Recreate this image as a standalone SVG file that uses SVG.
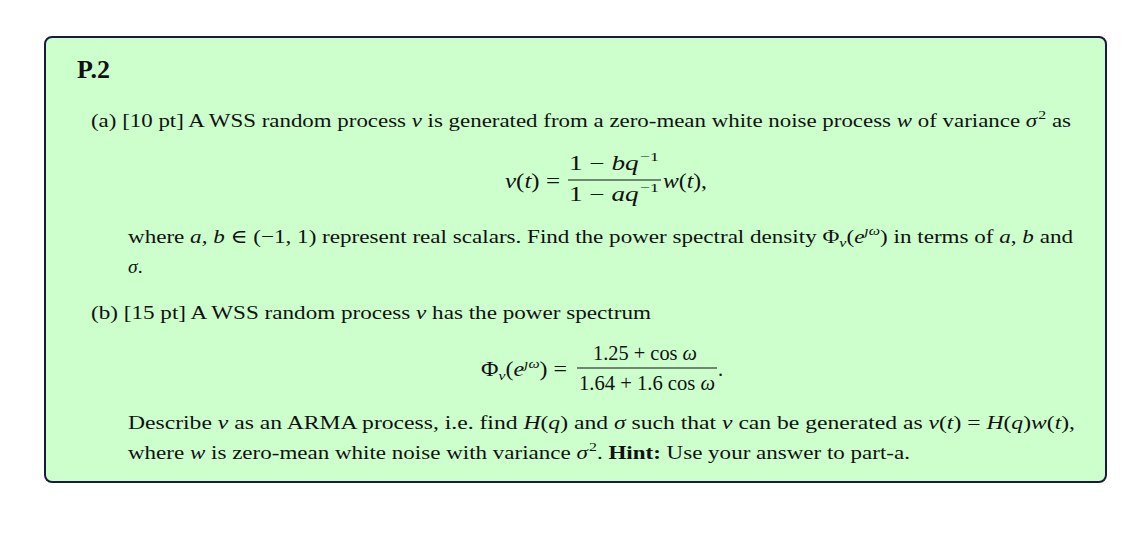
<svg xmlns="http://www.w3.org/2000/svg" width="1139" height="538" viewBox="0 0 1139 538">
<style>
text{font-family:"Liberation Serif","DejaVu Serif",serif;font-size:19.5px;fill:#111}
.m{font-size:20.5px}
.i{font-style:italic}
.s{font-size:13.5px}
</style>
<rect width="1139" height="538" fill="#fff"/>
<g id="box">
<rect x="45" y="37" width="1061" height="445" rx="7" fill="#ccffcc" stroke="#1a1a3a" stroke-width="2"/>
</g>
<g id="content">
<text x="77" y="78" style="font-weight:bold;font-size:26px">P.2</text>
<text x="91" y="127" textLength="980" lengthAdjust="spacingAndGlyphs">(a)  [10 pt] A WSS random process <tspan class="i">v</tspan> is generated from a zero-mean white noise process <tspan class="i">w</tspan> of variance <tspan class="i">σ</tspan><tspan class="s" dx="1" dy="-8">2</tspan><tspan dy="8"> as</tspan></text>
<text class="m" x="505" y="188" textLength="55" lengthAdjust="spacingAndGlyphs"><tspan class="i">v</tspan>(<tspan class="i">t</tspan>) =</text>
<text class="m" x="569" y="170" textLength="90" lengthAdjust="spacingAndGlyphs">1 − <tspan class="i">bq</tspan><tspan class="s" dx="1" dy="-9">−1</tspan></text>
<line x1="568" y1="180" x2="661" y2="180" stroke="#111" stroke-width="1.2"/>
<text class="m" x="569" y="201" textLength="90" lengthAdjust="spacingAndGlyphs">1 − <tspan class="i">aq</tspan><tspan class="s" dx="1" dy="-9">−1</tspan></text>
<text class="m" x="663" y="188" textLength="44" lengthAdjust="spacingAndGlyphs"><tspan class="i">w</tspan>(<tspan class="i">t</tspan>),</text>
<text x="128" y="243" textLength="945" lengthAdjust="spacingAndGlyphs">where <tspan class="i">a, b</tspan> ∈ (−1, 1) represent real scalars. Find the power spectral density Φ<tspan class="i s" dy="4">v</tspan><tspan dy="-4">(</tspan><tspan class="i">e</tspan><tspan class="i s" dy="-8">ȷω</tspan><tspan dy="8">) in terms of </tspan><tspan class="i">a</tspan>, <tspan class="i">b</tspan> and</text>
<text x="128" y="273"><tspan class="i">σ</tspan>.</text>
<text x="91" y="319" textLength="560" lengthAdjust="spacingAndGlyphs">(b)  [15 pt] A WSS random process <tspan class="i">v</tspan> has the power spectrum</text>
<text class="m" x="481" y="376" textLength="86" lengthAdjust="spacingAndGlyphs">Φ<tspan class="i s" dy="4">v</tspan><tspan dy="-4">(</tspan><tspan class="i">e</tspan><tspan class="i s" dy="-8">ȷω</tspan><tspan dy="8">) =</tspan></text>
<text class="m" x="593" y="360" textLength="104" lengthAdjust="spacingAndGlyphs">1.25 + cos <tspan class="i">ω</tspan></text>
<line x1="577" y1="368" x2="717" y2="368" stroke="#111" stroke-width="1.2"/>
<text class="m" x="579" y="390" textLength="136" lengthAdjust="spacingAndGlyphs">1.64 + 1.6 cos <tspan class="i">ω</tspan></text>
<text class="m" x="718" y="376">.</text>
<text x="128" y="429" textLength="947" lengthAdjust="spacingAndGlyphs">Describe <tspan class="i">v</tspan> as an ARMA process, i.e. find <tspan class="i">H</tspan>(<tspan class="i">q</tspan>) and <tspan class="i">σ</tspan> such that <tspan class="i">v</tspan> can be generated as <tspan class="i">v</tspan>(<tspan class="i">t</tspan>) = <tspan class="i">H</tspan>(<tspan class="i">q</tspan>)<tspan class="i">w</tspan>(<tspan class="i">t</tspan>),</text>
<text x="128" y="459" textLength="782" lengthAdjust="spacingAndGlyphs">where <tspan class="i">w</tspan> is zero-mean white noise with variance <tspan class="i">σ</tspan><tspan class="s" dx="1" dy="-8">2</tspan><tspan dy="8">. </tspan><tspan font-weight="bold">Hint:</tspan> Use your answer to part-a.</text>
</g>
</svg>
